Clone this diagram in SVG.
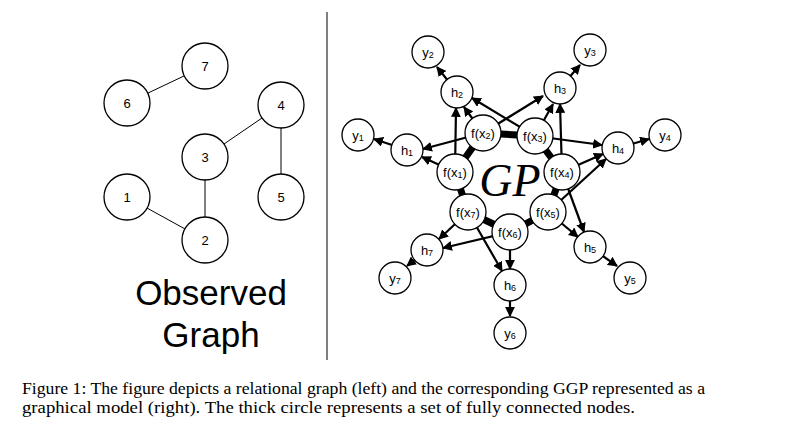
<svg xmlns="http://www.w3.org/2000/svg" width="800" height="436" viewBox="0 0 800 436">
<style>
.n{fill:#fff;stroke:#000;stroke-width:1.3}
.t{font-family:"Liberation Sans",Arial,sans-serif;font-size:13px;text-anchor:middle;dominant-baseline:central}
.s{font-size:9px}
.e{stroke:#000;stroke-width:2.2;fill:none;marker-end:url(#a)}
.c{font-family:"Liberation Serif","Times New Roman",serif;font-size:16px}
</style>
<defs><marker id="a" viewBox="0 0 10 10" refX="9" refY="5" markerWidth="4.5" markerHeight="4.5" orient="auto"><path d="M0,0L10,5L0,10z"/></marker></defs>
<rect width="800" height="436" fill="#fff"/>
<line x1="327" y1="12" x2="327" y2="360" stroke="#000"/>
<g id="left-edges" stroke="#000" stroke-width="1">
<line x1="205" y1="66" x2="127" y2="103"/><line x1="281" y1="105" x2="205" y2="157"/><line x1="281" y1="105" x2="281" y2="197"/><line x1="205" y1="157" x2="205" y2="240"/><line x1="127" y1="197" x2="205" y2="240"/>
</g>
<g id="g7"><circle class="n" cx="205" cy="66" r="23"/><text class="t" x="205" y="66">7</text></g>
<g id="g6"><circle class="n" cx="127" cy="103" r="23"/><text class="t" x="127" y="103">6</text></g>
<g id="g4"><circle class="n" cx="281" cy="105" r="23"/><text class="t" x="281" y="105">4</text></g>
<g id="g3"><circle class="n" cx="205" cy="157" r="23"/><text class="t" x="205" y="157">3</text></g>
<g id="g5"><circle class="n" cx="281" cy="197" r="23"/><text class="t" x="281" y="197">5</text></g>
<g id="g1"><circle class="n" cx="127" cy="197" r="23"/><text class="t" x="127" y="197">1</text></g>
<g id="g2"><circle class="n" cx="205" cy="240" r="23"/><text class="t" x="205" y="240">2</text></g>
<text x="211" y="305" font-family="Liberation Sans,Arial,sans-serif" font-size="35" text-anchor="middle">Observed</text>
<text x="211" y="347" font-family="Liberation Sans,Arial,sans-serif" font-size="35" text-anchor="middle">Graph</text>
<g id="ring" stroke="#000" stroke-width="7" fill="none" stroke-linecap="round">
<polyline points="483,133 535,136 562,172 548,212 510,232 468,212 455,172 483,133"/>
</g>
<text x="510" y="196" font-family="Liberation Serif,serif" font-style="italic" font-size="46" text-anchor="middle">GP</text>
<g id="connectors">
<line class="e" x1="483" y1="133" x2="423" y2="149"/>
<line class="e" x1="483" y1="133" x2="543" y2="96"/>
<line class="e" x1="483" y1="133" x2="464" y2="107"/>
<line class="e" x1="455" y1="172" x2="422" y2="157"/>
<line class="e" x1="455" y1="172" x2="456" y2="108"/>
<line class="e" x1="535" y1="136" x2="472" y2="98"/>
<line class="e" x1="535" y1="136" x2="553" y2="104"/>
<line class="e" x1="535" y1="136" x2="602" y2="145"/>
<line class="e" x1="562" y1="172" x2="560" y2="104"/>
<line class="e" x1="562" y1="172" x2="603" y2="154"/>
<line class="e" x1="562" y1="172" x2="584" y2="232"/>
<line class="e" x1="548" y1="212" x2="606" y2="159"/>
<line class="e" x1="548" y1="212" x2="578" y2="237"/>
<line class="e" x1="510" y1="232" x2="510" y2="269"/>
<line class="e" x1="510" y1="232" x2="443" y2="248"/>
<line class="e" x1="468" y1="212" x2="439" y2="239"/>
<line class="e" x1="468" y1="212" x2="502" y2="271"/>
<line class="e" x1="457" y1="92" x2="437" y2="67"/>
<line class="e" x1="560" y1="88" x2="580" y2="65"/>
<line class="e" x1="407" y1="150" x2="374" y2="139"/>
<line class="e" x1="618" y1="148" x2="649" y2="139"/>
<line class="e" x1="427" y1="250" x2="407" y2="266"/>
<line class="e" x1="510" y1="285" x2="510" y2="316"/>
<line class="e" x1="590" y1="247" x2="617" y2="266"/>
</g>
<g id="fx2"><circle class="n" cx="483" cy="133" r="18"/><text class="t" x="483" y="133">f(x<tspan class="s" dy="3">2</tspan><tspan dy="-3">)</tspan></text></g>
<g id="fx3"><circle class="n" cx="535" cy="136" r="18"/><text class="t" x="535" y="136">f(x<tspan class="s" dy="3">3</tspan><tspan dy="-3">)</tspan></text></g>
<g id="fx1"><circle class="n" cx="455" cy="172" r="18"/><text class="t" x="455" y="172">f(x<tspan class="s" dy="3">1</tspan><tspan dy="-3">)</tspan></text></g>
<g id="fx4"><circle class="n" cx="562" cy="172" r="18"/><text class="t" x="562" y="172">f(x<tspan class="s" dy="3">4</tspan><tspan dy="-3">)</tspan></text></g>
<g id="fx7"><circle class="n" cx="468" cy="212" r="18"/><text class="t" x="468" y="212">f(x<tspan class="s" dy="3">7</tspan><tspan dy="-3">)</tspan></text></g>
<g id="fx6"><circle class="n" cx="510" cy="232" r="18"/><text class="t" x="510" y="232">f(x<tspan class="s" dy="3">6</tspan><tspan dy="-3">)</tspan></text></g>
<g id="fx5"><circle class="n" cx="548" cy="212" r="18"/><text class="t" x="548" y="212">f(x<tspan class="s" dy="3">5</tspan><tspan dy="-3">)</tspan></text></g>
<g id="h1"><circle class="n" cx="407" cy="150" r="16"/><text class="t" x="407" y="150">h<tspan class="s" dy="3">1</tspan></text></g>
<g id="h2"><circle class="n" cx="457" cy="92" r="16"/><text class="t" x="457" y="92">h<tspan class="s" dy="3">2</tspan></text></g>
<g id="h3"><circle class="n" cx="560" cy="88" r="16"/><text class="t" x="560" y="88">h<tspan class="s" dy="3">3</tspan></text></g>
<g id="h4"><circle class="n" cx="618" cy="148" r="16"/><text class="t" x="618" y="148">h<tspan class="s" dy="3">4</tspan></text></g>
<g id="h5"><circle class="n" cx="590" cy="247" r="16"/><text class="t" x="590" y="247">h<tspan class="s" dy="3">5</tspan></text></g>
<g id="h6"><circle class="n" cx="510" cy="285" r="16"/><text class="t" x="510" y="285">h<tspan class="s" dy="3">6</tspan></text></g>
<g id="h7"><circle class="n" cx="427" cy="250" r="16"/><text class="t" x="427" y="250">h<tspan class="s" dy="3">7</tspan></text></g>
<g id="y1"><circle class="n" cx="358" cy="135" r="16"/><text class="t" x="358" y="135">y<tspan class="s" dy="3">1</tspan></text></g>
<g id="y2"><circle class="n" cx="428" cy="52" r="16"/><text class="t" x="428" y="52">y<tspan class="s" dy="3">2</tspan></text></g>
<g id="y3"><circle class="n" cx="590" cy="50" r="16"/><text class="t" x="590" y="50">y<tspan class="s" dy="3">3</tspan></text></g>
<g id="y4"><circle class="n" cx="665" cy="135" r="16"/><text class="t" x="665" y="135">y<tspan class="s" dy="3">4</tspan></text></g>
<g id="y5"><circle class="n" cx="630" cy="278" r="16"/><text class="t" x="630" y="278">y<tspan class="s" dy="3">5</tspan></text></g>
<g id="y6"><circle class="n" cx="510" cy="333" r="16"/><text class="t" x="510" y="333">y<tspan class="s" dy="3">6</tspan></text></g>
<g id="y7"><circle class="n" cx="395" cy="278" r="16"/><text class="t" x="395" y="278">y<tspan class="s" dy="3">7</tspan></text></g>
<text class="c" x="22" y="394" textLength="683" lengthAdjust="spacingAndGlyphs">Figure 1:  The figure depicts a relational graph (left) and the corresponding GGP represented as a</text>
<text class="c" x="22" y="413" textLength="613" lengthAdjust="spacingAndGlyphs">graphical model (right). The thick circle represents a set of fully connected nodes.</text>
</svg>
